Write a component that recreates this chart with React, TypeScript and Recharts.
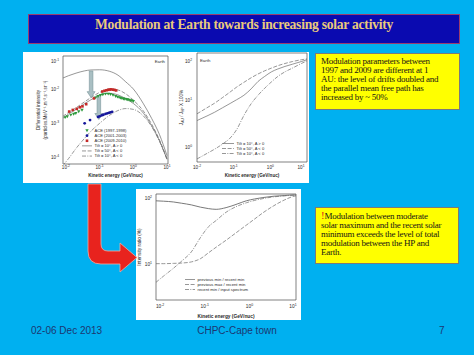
import React from "react";
import {
  ComposedChart,
  Line,
  Scatter,
  XAxis,
  YAxis,
  ReferenceArea,
  ReferenceLine,
  Legend,
  Label,
} from "recharts";

const SERIF = '"Liberation Serif", "Times New Roman", serif';
const SANS = '"Liberation Sans", Arial, sans-serif';
const SLIDE_BG = "#00b0f0";
const CURVE = "#6a6a6a";
const FRAME = "#4a4a4a";
const TXT = "#2a2a2a";

// left panel: spectra at Earth
const energyLeft = [0.008, 0.012, 0.02, 0.035, 0.055, 0.1, 0.2, 0.35, 0.6, 1, 2, 3.5, 6, 10];
const lisFlux = [0.022, 0.026, 0.031, 0.036, 0.0385, 0.039, 0.035, 0.027, 0.017, 0.0105, 0.0038, 0.0014, 4.6e-4, 1.1e-4];
const tilt10PosFlux = [1.4e-3, 1.9e-3, 2.6e-3, 3.8e-3, 5.0e-3, 6.9e-3, 7.8e-3, 7.0e-3, 5.4e-3, 3.9e-3, 2.0e-3, 8.5e-4, 3.0e-4, 8.5e-5];
const tilt50NegFlux = [1.6e-3, 2.1e-3, 2.9e-3, 4.3e-3, 5.8e-3, 8.3e-3, 1.05e-2, 9.8e-3, 7.5e-3, 4.9e-3, 2.3e-3, 9.5e-4, 3.2e-4, 9e-5];
const tilt10NegFlux = [5.5e-5, 9e-5, 1.8e-4, 3.5e-4, 5.8e-4, 1.0e-3, 1.75e-3, 2.4e-3, 2.75e-3, 2.6e-3, 1.65e-3, 8e-4, 2.9e-4, 8.5e-5];

const ace9798Energy = [0.0095, 0.011, 0.014, 0.017, 0.0197, 0.024, 0.03, 0.076, 0.09, 0.107, 0.125, 0.15, 0.18, 0.21, 0.25, 0.3, 0.34, 0.38, 0.42, 0.46, 0.51, 0.56, 0.62, 0.68, 0.75, 0.83, 0.91, 1.0];
const ace9798Flux = [1.5e-3, 1.6e-3, 1.78e-3, 1.9e-3, 2.0e-3, 2.25e-3, 2.5e-3, 5.8e-3, 6.4e-3, 6.9e-3, 7.2e-3, 7.5e-3, 7.5e-3, 7.3e-3, 6.9e-3, 6.4e-3, 6.1e-3, 5.9e-3, 5.7e-3, 5.5e-3, 5.4e-3, 5.3e-3, 5.2e-3, 5.1e-3, 4.95e-3, 4.8e-3, 4.7e-3, 4.55e-3];
const ace0103Energy = [0.036, 0.052, 0.09, 0.1, 0.115, 0.13, 0.15, 0.17, 0.19, 0.21, 0.235];
const ace0103Flux = [1.0e-3, 1.25e-3, 1.55e-3, 1.62e-3, 1.72e-3, 1.8e-3, 1.9e-3, 1.98e-3, 2.05e-3, 2.12e-3, 2.2e-3];
const ace0910Energy = [0.0125, 0.016, 0.021, 0.026, 0.031, 0.04, 0.068, 0.12, 0.14, 0.16, 0.18, 0.2, 0.22, 0.25, 0.28, 0.31];
const ace0910Flux = [2.24e-3, 2.5e-3, 2.7e-3, 3.0e-3, 3.2e-3, 3.7e-3, 5.5e-3, 8.8e-3, 9.3e-3, 9.6e-3, 9.9e-3, 1.01e-2, 1.02e-2, 1.0e-2, 9.8e-3, 9.5e-3];

// gray drop arrows: [energy, from, to]
const dropArrows = [
  [0.056, 0.036, 0.0058],
  [0.095, 0.0068, 0.0013],
];

// middle panel: J_AU / J_HP x 100%
const energyMid = [0.01, 0.02, 0.03, 0.05, 0.08, 0.12, 0.19, 0.3, 0.46, 0.7, 1.07, 1.6, 2.5, 4, 7, 10];
const ratioTilt10Pos = [3.75, 4.8, 5.6, 7.0, 8.6, 10.3, 12.8, 17.5, 25, 32, 40, 46, 52, 58, 66, 72];
const ratioTilt50Neg = [5.2, 7.2, 8.7, 11.5, 15, 19, 24, 30, 36, 42, 48, 54, 60, 66, 72, 75];
const ratioTilt10Neg = [0.58, 0.78, 0.93, 1.2, 1.6, 2.4, 4.8, 8.5, 12.8, 18, 24.5, 32, 40, 48, 60, 68];

// bottom panel: intensity ratios
const energyLow = [0.008, 0.012, 0.02, 0.03, 0.05, 0.08, 0.12, 0.18, 0.3, 0.5, 0.85, 1.3, 2, 3.5, 6, 10, 11];
const prevMinRecentMin = [80, 79, 77, 74, 70, 65, 62, 60.5, 64, 71, 80, 85, 89, 93, 95, 97, 97];
const prevMaxRecentMin = [10.2, 10.2, 10.3, 10.4, 10.8, 12, 14.5, 17.5, 22, 28, 36, 44, 54, 68, 82, 93, 94];
const recentMinInput = [5.5, 6.8, 8.8, 11, 15, 24, 34, 42, 55, 66, 75, 81, 86, 91, 94, 96, 96];

const decadeTicksLeft = [1e-4, 1e-3, 1e-2, 1e-1];
const decadeTicksMid = [1, 10, 100];
const decadeTicksLow = [10, 100];
const energyTicks = [0.01, 0.1, 1, 10];

const zip = (xs: number[], ys: number[]) => xs.map((x, i) => ({ x, y: ys[i] }));

function PowTick(props: any) {
  const { x, y, payload, side, size } = props;
  const exp = Math.round(Math.log10(payload.value));
  const baseY = side === "x" ? y + size * 0.9 : y + size * 0.35;
  return (
    <text x={x} y={baseY} textAnchor={side === "x" ? "middle" : "end"} fontSize={size} fontFamily={SANS} fill={TXT}>
      10
      <tspan dy={-size * 0.45} fontSize={size * 0.72}>
        {exp}
      </tspan>
    </text>
  );
}

function BottomTitle(props: any) {
  const { viewBox, text, size, gap } = props;
  const cx = viewBox.x + viewBox.width / 2;
  return (
    <text x={cx} y={viewBox.y + gap} textAnchor="middle" fontSize={size} fontWeight={700} fontFamily={SANS} fill={TXT}>
      {text}
    </text>
  );
}

function SideTitle(props: any) {
  const { viewBox, lines, size, dx } = props;
  const right = viewBox.x + viewBox.width;
  const cy = viewBox.y + viewBox.height / 2;
  return (
    <g>
      {lines.map((l: React.ReactNode, i: number) => (
        <text
          key={i}
          transform={`translate(${right + dx[i]},${cy}) rotate(-90)`}
          textAnchor="middle"
          fontSize={size}
          fontFamily={SANS}
          fill={TXT}
        >
          {l}
        </text>
      ))}
    </g>
  );
}

function DropArrow(p: any) {
  const { x1, y1, y2 } = p;
  const x = x1;
  const w = 1.8;
  const hw = 4;
  const yb = y2 - 6;
  return (
    <path
      d={`M${x - w},${y1} L${x + w},${y1} L${x + w},${yb} L${x + hw},${yb} L${x},${y2} L${x - hw},${yb} L${x - w},${yb} Z`}
      fill="#a9bfc3"
      stroke="#7b959a"
      strokeWidth={0.6}
    />
  );
}

function TriDown(p: any) {
  const { cx, cy } = p;
  return <path d={`M${cx - 1.7},${cy - 1.2} L${cx + 1.7},${cy - 1.2} L${cx},${cy + 1.7} Z`} fill="#2e9a3c" />;
}
function Dot(p: any) {
  return <circle cx={p.cx} cy={p.cy} r={1.4} fill="#15169a" />;
}
function Sq(p: any) {
  return <rect x={p.cx - 1.3} y={p.cy - 1.3} width={2.6} height={2.6} fill="#c42a28" />;
}

type Row = { label: string; dash?: string; marker?: (p: any) => React.ReactElement };

function LegendBox({ rows, rowH, size, sampleW }: { rows: Row[]; rowH: number; size: number; sampleW: number }) {
  return (
    <svg width={80} height={rows.length * rowH} style={{ display: "block", overflow: "visible" }}>
      {rows.map((r, i) => {
        const cy = i * rowH + rowH / 2;
        return (
          <g key={i}>
            {r.marker ? (
              r.marker({ cx: sampleW / 2, cy })
            ) : (
              <line x1={0} x2={sampleW} y1={cy} y2={cy} stroke={CURVE} strokeWidth={0.7} strokeDasharray={r.dash} />
            )}
            <text x={sampleW + 2.5} y={cy + size * 0.35} fontSize={size} fontFamily={SANS} fill={TXT}>
              {r.label}
            </text>
          </g>
        );
      })}
    </svg>
  );
}

const DASH = "4 1.6";
const DASHDOT = "4 1.3 1 1.3";

function SpectraChart() {
  return (
    <ComposedChart width={160} height={131} margin={{ top: 4, right: 15, bottom: 7, left: 26 }}>
      <XAxis
        type="number"
        dataKey="x"
        scale="log"
        domain={[0.0082, 10.7]}
        allowDataOverflow
        ticks={energyTicks}
        tickLine={false}
        axisLine={false}
        tickSize={0}
        tickMargin={1}
        height={12}
        tick={<PowTick side="x" size={4.6} />}
      >
        <Label content={<BottomTitle text="Kinetic energy (GeV/nuc)" size={4.6} gap={12.5} />} />
      </XAxis>
      <YAxis
        type="number"
        dataKey="y"
        scale="log"
        domain={[6.2e-5, 0.1]}
        allowDataOverflow
        ticks={decadeTicksLeft}
        tickLine={false}
        axisLine={false}
        tickSize={0}
        tickMargin={4}
        width={14}
        tick={<PowTick side="y" size={4.6} />}
      >
        <Label
          content={
            <SideTitle
              size={4.6}
              dx={[-23, -16]}
              lines={["Differential intensity", "(particles.MeV\u207B\u00B9.m\u207B\u00B2.s\u207B\u00B9.sr\u207B\u00B9)"]}
            />
          }
        />
      </YAxis>
      <ReferenceArea x1={0.0082} x2={10.7} y1={6.2e-5} y2={0.1} fill="none" stroke={FRAME} strokeWidth={0.7} />
      <Line data={zip(energyLeft, lisFlux)} dataKey="y" type="monotone" stroke={CURVE} strokeWidth={0.7} dot={false} isAnimationActive={false} />
      <Line data={zip(energyLeft, tilt10PosFlux)} dataKey="y" type="monotone" stroke={CURVE} strokeWidth={0.7} dot={false} isAnimationActive={false} />
      <Line data={zip(energyLeft, tilt50NegFlux)} dataKey="y" type="monotone" stroke={CURVE} strokeWidth={0.7} strokeDasharray={DASH} dot={false} isAnimationActive={false} />
      <Line data={zip(energyLeft, tilt10NegFlux)} dataKey="y" type="monotone" stroke={CURVE} strokeWidth={0.7} strokeDasharray={DASHDOT} dot={false} isAnimationActive={false} />
      <Scatter data={zip(ace9798Energy, ace9798Flux)} shape={TriDown} isAnimationActive={false} />
      <Scatter data={zip(ace0103Energy, ace0103Flux)} shape={Dot} isAnimationActive={false} />
      <Scatter data={zip(ace0910Energy, ace0910Flux)} shape={Sq} isAnimationActive={false} />
      {dropArrows.map(([e, from, to], i) => (
        <ReferenceLine key={i} segment={[{ x: e, y: from }, { x: e, y: to }]} shape={DropArrow} ifOverflow="visible" />
      ))}
      <Legend
        layout="vertical"
        align="center"
        verticalAlign="middle"
        wrapperStyle={{ left: 59, top: 76, width: 80 }}
        content={() => (
          <LegendBox
            rowH={5.1}
            size={4.1}
            sampleW={10}
            rows={[
              { label: "ACE (1997-1998)", marker: TriDown },
              { label: "ACE (2001-2003)", marker: Dot },
              { label: "ACE (2009-2010)", marker: Sq },
              { label: "Tilt = 10\u00B0, A > 0" },
              { label: "Tilt = 50\u00B0, A < 0", dash: DASH },
              { label: "Tilt = 10\u00B0, A < 0", dash: DASHDOT },
            ]}
          />
        )}
      />
    </ComposedChart>
  );
}

function RatioChart() {
  return (
    <ComposedChart width={134} height={131} margin={{ top: 1, right: 2, bottom: 9, left: 10 }}>
      <XAxis
        type="number"
        dataKey="x"
        scale="log"
        domain={[0.01, 10]}
        allowDataOverflow
        ticks={energyTicks}
        tickLine={false}
        axisLine={false}
        tickSize={0}
        tickMargin={3}
        height={12}
        tick={<PowTick side="x" size={4.6} />}
      >
        <Label content={<BottomTitle text="Kinetic energy (GeV/nuc)" size={4.6} gap={15} />} />
      </XAxis>
      <YAxis
        type="number"
        dataKey="y"
        scale="log"
        domain={[0.5, 100]}
        allowDataOverflow
        ticks={decadeTicksMid}
        tickLine={false}
        axisLine={false}
        tickSize={0}
        tickMargin={5}
        width={12}
        tick={<PowTick side="y" size={4.6} />}
      >
        <Label
          content={
            <SideTitle
              size={4.6}
              dx={[-14]}
              lines={[
                <>
                  J<tspan dy={1} fontSize={3.4}>AU</tspan>
                  <tspan dy={-1}> / J</tspan>
                  <tspan dy={1} fontSize={3.4}>HP</tspan>
                  <tspan dy={-1}> X 100%</tspan>
                </>,
              ]}
            />
          }
        />
      </YAxis>
      <ReferenceArea x1={0.01} x2={10} y1={0.5} y2={100} fill="none" stroke={FRAME} strokeWidth={0.7} />
      <Line data={zip(energyMid, ratioTilt10Pos)} dataKey="y" type="monotone" stroke={CURVE} strokeWidth={0.7} dot={false} isAnimationActive={false} />
      <Line data={zip(energyMid, ratioTilt50Neg)} dataKey="y" type="monotone" stroke={CURVE} strokeWidth={0.7} strokeDasharray={DASH} dot={false} isAnimationActive={false} />
      <Line data={zip(energyMid, ratioTilt10Neg)} dataKey="y" type="monotone" stroke={CURVE} strokeWidth={0.7} strokeDasharray={DASHDOT} dot={false} isAnimationActive={false} />
      <Legend
        layout="vertical"
        align="center"
        verticalAlign="middle"
        wrapperStyle={{ left: 47, top: 89, width: 80 }}
        content={() => (
          <LegendBox
            rowH={5}
            size={4.1}
            sampleW={12}
            rows={[
              { label: "Tilt = 10\u00B0, A > 0" },
              { label: "Tilt = 50\u00B0, A < 0", dash: DASH },
              { label: "Tilt = 10\u00B0, A < 0", dash: DASHDOT },
            ]}
          />
        )}
      />
    </ComposedChart>
  );
}

function IntensityRatioChart() {
  return (
    <ComposedChart width={165} height={131} margin={{ top: 5, right: 5, bottom: 10, left: 10 }}>
      <XAxis
        type="number"
        dataKey="x"
        scale="log"
        domain={[0.0081, 11]}
        allowDataOverflow
        ticks={energyTicks}
        tickLine={false}
        axisLine={false}
        tickSize={0}
        tickMargin={3.5}
        height={10}
        tick={<PowTick side="x" size={4.8} />}
      >
        <Label content={<BottomTitle text="Kinetic energy (GeV/nuc)" size={4.8} gap={17.5} />} />
      </XAxis>
      <YAxis
        type="number"
        dataKey="y"
        scale="log"
        domain={[3.1, 100]}
        allowDataOverflow
        ticks={decadeTicksLow}
        tickLine={false}
        axisLine={false}
        tickSize={0}
        tickMargin={4}
        width={10}
        tick={<PowTick side="y" size={4.8} />}
      >
        <Label content={<SideTitle size={4.8} dx={[-15]} lines={["Intensity ratio (%)"]} />} />
      </YAxis>
      <ReferenceArea x1={0.0081} x2={11} y1={3.1} y2={100} fill="none" stroke={FRAME} strokeWidth={0.7} />
      <Line data={zip(energyLow, prevMinRecentMin)} dataKey="y" type="monotone" stroke={CURVE} strokeWidth={0.9} dot={false} isAnimationActive={false} />
      <Line data={zip(energyLow, prevMaxRecentMin)} dataKey="y" type="monotone" stroke={CURVE} strokeWidth={0.7} strokeDasharray={DASH} dot={false} isAnimationActive={false} />
      <Line data={zip(energyLow, recentMinInput)} dataKey="y" type="monotone" stroke={CURVE} strokeWidth={0.7} strokeDasharray={DASHDOT} dot={false} isAnimationActive={false} />
      <Legend
        layout="vertical"
        align="center"
        verticalAlign="middle"
        wrapperStyle={{ left: 49, top: 88, width: 80 }}
        content={() => (
          <LegendBox
            rowH={5}
            size={4.2}
            sampleW={10}
            rows={[
              { label: "previous min / recent min" },
              { label: "previous max / recent min", dash: DASH },
              { label: "recent min / input spectrum", dash: DASHDOT },
            ]}
          />
        )}
      />
    </ComposedChart>
  );
}

const noteTop = [
  "Modulation parameters between",
  "1997 and 2009 are different at 1",
  "AU: the level of drifts doubled and",
  "the parallel mean free path has",
  "increased by ~ 50%",
];
const noteBottom = [
  "Modulation between moderate",
  "solar maximum and the recent solar",
  "minimum exceeds the level of total",
  "modulation between the HP and",
  "Earth.",
];

const noteStyle: React.CSSProperties = {
  position: "absolute",
  boxSizing: "border-box",
  background: "#ffff00",
  border: "1px solid #7a7a7a",
  padding: "3px 0 0 5px",
  fontFamily: SERIF,
  fontSize: 9,
  lineHeight: "9px",
  letterSpacing: -0.25,
  color: "#151515",
  whiteSpace: "nowrap",
};

export default function App() {
  return (
    <div
      style={{
        position: "absolute",
        left: 0,
        top: 0,
        width: 474,
        height: 355,
        background: SLIDE_BG,
        overflow: "hidden",
        fontFamily: SANS,
      }}
    >
      <div
        style={{
          position: "absolute",
          left: 28,
          top: 14,
          width: 432,
          height: 30,
          boxSizing: "border-box",
          background: "#0a0ab0",
          border: "1.5px solid #9a3d6e",
          color: "#e9c97c",
          fontFamily: SERIF,
          fontWeight: 700,
          fontSize: 13.6,
          lineHeight: "20px",
          textAlign: "center",
          letterSpacing: -0.25,
        }}
      >
        Modulation at Earth towards increasing solar activity
      </div>

      <div style={{ position: "absolute", left: 23, top: 52, width: 286, height: 131, background: "#fff" }} />
      <div style={{ position: "absolute", left: 136, top: 189, width: 165, height: 131, background: "#fff" }} />

      <svg width={474} height={355} style={{ position: "absolute", left: 0, top: 0 }}>
        <path
          d="M88 184 L101 184 L101 244 Q101 251 108 251 L120 251 L120 243 L137 257.5 L120 272 L120 264 L101 264 Q88 264 88 251 Z"
          fill="#e8231e"
          stroke="#f4a9a0"
          strokeWidth={0.8}
        />
      </svg>

      <div style={{ position: "absolute", left: 23, top: 52 }}>
        <SpectraChart />
      </div>
      <div style={{ position: "absolute", left: 175, top: 52 }}>
        <RatioChart />
      </div>
      <div style={{ position: "absolute", left: 136, top: 189 }}>
        <IntensityRatioChart />
      </div>

      <svg width={474} height={355} style={{ position: "absolute", left: 0, top: 0, pointerEvents: "none" }}>
        <text x={165} y={62.5} textAnchor="end" fontSize={4.3} fontFamily={SANS} fill={TXT}>
          Earth
        </text>
        <text x={200} y={61.5} fontSize={4.3} fontFamily={SANS} fill={TXT}>
          Earth
        </text>
      </svg>

      <div style={{ ...noteStyle, left: 315, top: 53, width: 145, height: 57 }}>
        {noteTop.map((l, i) => (
          <div key={i}>{l}</div>
        ))}
      </div>
      <div style={{ ...noteStyle, left: 315, top: 207, width: 144, height: 57 }}>
        {noteBottom.map((l, i) => (
          <div key={i}>
            {i === 0 && <span style={{ color: "#e0201c", fontSize: 11, lineHeight: "9px" }}>!</span>}
            {l}
          </div>
        ))}
      </div>

      <div style={{ position: "absolute", left: 31, top: 325, fontSize: 10, lineHeight: "12px", color: "#1c3770" }}>
        02-06 Dec 2013
      </div>
      <div style={{ position: "absolute", left: 187, width: 100, top: 325, fontSize: 10, lineHeight: "12px", color: "#1c3770", textAlign: "center" }}>
        CHPC-Cape town
      </div>
      <div style={{ position: "absolute", left: 439, top: 325, fontSize: 10, lineHeight: "12px", color: "#1c3770" }}>7</div>
    </div>
  );
}
